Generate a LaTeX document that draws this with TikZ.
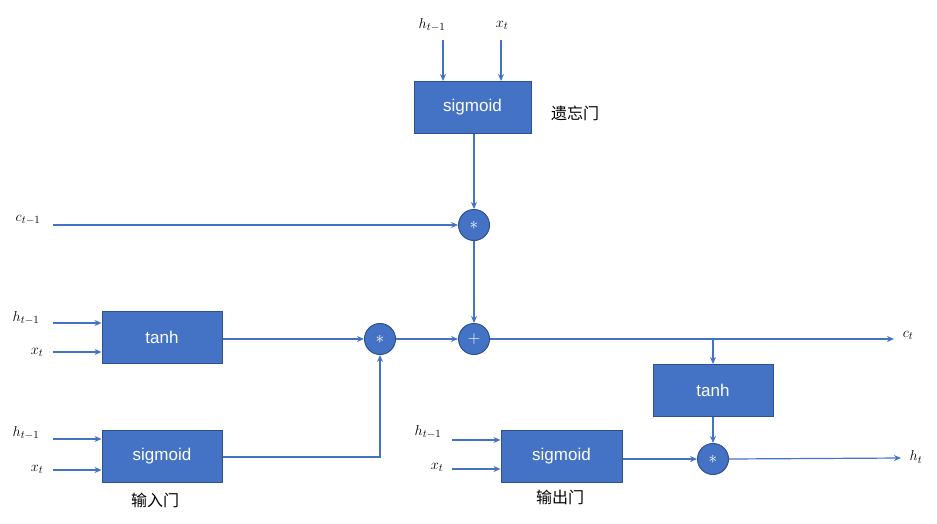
\documentclass[tikz,border=0pt]{standalone}
\usepackage{fontspec}
\setmainfont{Liberation Sans}
\newfontfamily\cjk{Noto Sans CJK SC}
\usetikzlibrary{arrows.meta}
\definecolor{bl}{HTML}{4472C4}
\definecolor{bd}{HTML}{2F528F}
\begin{document}
\begin{tikzpicture}[x=1pt,y=-1pt,
 box/.style={draw=bd,fill=bl,line width=1pt,minimum width=120pt,minimum height=52pt,text=white,font=\fontsize{17}{20}\selectfont,inner sep=0pt},
 op/.style={circle,draw=bd,fill=bl,line width=1pt,minimum size=31pt,inner sep=0pt,text=white,font=\fontsize{17}{20}\selectfont},
 ln/.style={draw=bl,line width=1.2pt},
 ar/.style={ln,-{Stealth[length=7pt,width=6pt]}},
 lab/.style={font=\fontsize{15}{18}\selectfont,inner sep=0pt},
 cn/.style={font=\cjk\fontsize{16}{19}\selectfont,inner sep=0pt}]
\useasboundingbox (0,0) rectangle (937,523);
% forget gate
\node[box,minimum width=117pt] (fg) at (472.5,107) {sigmoid};
\node[cn] (fgl) at (575,113) {遗忘门};
\node[lab] (fh) at (432,25) {$h_{t-1}$};
\node[lab] (fx) at (502,25) {$x_t$};
\coordinate (fh0) at (443,40); \coordinate (fh1) at (443,81);
\coordinate (fx0) at (501,40); \coordinate (fx1) at (501,81);
\draw[ar] (fh0) -- (fh1);
\draw[ar] (fx0) -- (fx1);
\node[op] (m1) at (474,225) {$*$};
\draw[ar] (fg.south -| m1) -- (m1.north);
\node[lab] (c0) at (28,220) {$c_{t-1}$};
\coordinate (c0e) at (53,225);
\draw[ar] (c0e) -- (m1.west);
\node[op] (pl) at (474,339) {$+$};
\draw[ar] (m1) -- (pl);
% input
\node[box] (ta) at (162,337.5) {tanh};
\node[lab] (ih1) at (26,318) {$h_{t-1}$};
\node[lab] (ix1) at (37,352) {$x_t$};
\coordinate (a1) at (53,323); \coordinate (a2) at (53,352);
\draw[ar] (a1) -- (a1 -| ta.west);
\draw[ar] (a2) -- (a2 -| ta.west);
\node[op] (m2) at (380,339) {$*$};
\draw[ar] (ta.east |- m2) -- (m2.west);
\draw[ar] (m2) -- (pl);
\node[box] (ig) at (162,456.5) {sigmoid};
\node[cn] (igl) at (155,500) {输入门};
\node[lab] (ih2) at (26,433) {$h_{t-1}$};
\node[lab] (ix2) at (37,469) {$x_t$};
\coordinate (b1) at (53,439); \coordinate (b2) at (53,470);
\draw[ar] (b1) -- (b1 -| ig.west);
\draw[ar] (b2) -- (b2 -| ig.west);
\coordinate (igc) at (380,457);
\draw[ar] (ig.east |- igc) -- (igc) -- (m2.south);
% output
\node[lab] (ct) at (908,335) {$c_t$};
\coordinate (cte) at (894,339);
\draw[ar] (pl.east) -- (cte);
\node[box] (to) at (713,390.5) {tanh};
\coordinate (br) at (713,339);
\draw[ar] (br) -- (to.north);
\node[op] (m3) at (713,459) {$*$};
\draw[ar] (to) -- (m3);
\node[box,minimum width=121pt] (og) at (561.5,456.5) {sigmoid};
\node[cn] (ogl) at (560,497) {输出门};
\node[lab] (oh) at (428,432) {$h_{t-1}$};
\node[lab] (ox) at (437,467) {$x_t$};
\coordinate (d1) at (452,440); \coordinate (d2) at (452,469);
\draw[ar] (d1) -- (d1 -| og.west);
\draw[ar] (d2) -- (d2 -| og.west);
\draw[ar] (og.east |- m3) -- (m3.west);
\node[lab] (ht) at (916,457) {$h_t$};
\coordinate (hte) at (901,458);
\draw[ar] (m3.east) -- (hte);
\end{tikzpicture}
\end{document}
